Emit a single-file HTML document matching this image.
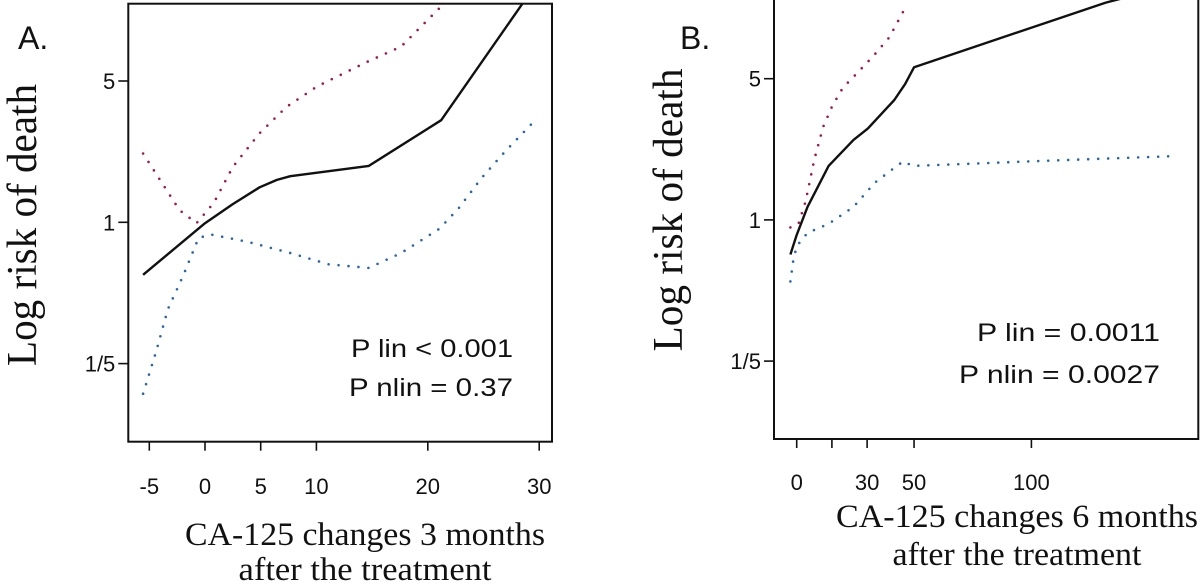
<!DOCTYPE html>
<html><head><meta charset="utf-8"><style>
html,body{margin:0;padding:0;background:#fff;}
svg{display:block;}
.ser{font-family:"Liberation Serif","Times New Roman",serif;fill:#111;}
.pv{font-family:"Liberation Sans",Arial,sans-serif;font-size:25px;fill:#111;}
.tk{font-family:"Liberation Sans",Arial,sans-serif;font-size:22px;fill:#111;}
</style></head><body>
<svg id="chart" width="1200" height="584" viewBox="0 0 1200 584" xmlns="http://www.w3.org/2000/svg">
<defs>
<clipPath id="clipA"><rect x="128.3" y="3.7" width="423.7" height="438"/></clipPath>
<clipPath id="clipB"><rect x="774" y="-2" width="424.3" height="441"/></clipPath>
</defs>
<g id="panelA"></g>
<g id="panelB"></g>
</svg>
<script>
// Panel A data (x = CA-125 change, values = hazard ratio)
const aTicksX = [-5, 0, 5, 10, 20, 30];
const aTickLabelsX = ["-5", "0", "5", "10", "20", "30"];
const yTicks = [0.2, 1, 5];
const yTickLabels = ["1/5", "1", "5"];
const aFitX = [-5.56, 0, 2.5, 4.9, 6.45, 7.66, 10.06, 14.7, 21.2, 28.6];
const aFitY = [0.55, 0.99, 1.23, 1.49, 1.62, 1.69, 1.76, 1.90, 3.2, 12.3];
const aUpperX = [-5.56, -2.3, -0.76, 0.8, 2.5, 4.9, 7.3, 10.06, 14.5, 17.6, 21.4];
const aUpperY = [2.19, 1.15, 0.99, 1.25, 1.88, 2.76, 3.72, 4.7, 6.2, 7.4, 12.0];
const aLowerX = [-5.56, -4.36, -3.33, -1.96, -0.58, 0.45, 3.88, 7.66, 11.1, 14.7, 17.6, 21.05, 22.8, 24.8, 26.9, 29.5];
const aLowerY = [0.142, 0.232, 0.372, 0.545, 0.835, 0.872, 0.80, 0.705, 0.62, 0.595, 0.705, 0.93, 1.18, 1.65, 2.23, 3.14];
// Panel B data
const bTicksX = [0, 15, 30, 50, 100];
const bTickLabelsX = ["0", "", "30", "50", "100"];
const bFitX = [-2.7, 0, 4.6, 13.6, 24.2, 30.3, 41.6, 46.2, 50, 131.7, 170];
const bFitY = [0.674, 0.843, 1.16, 1.85, 2.49, 2.83, 3.92, 4.70, 5.70, 11.9, 15.5];
const bUpperX = [-2.7, 0.76, 3.8, 7.6, 11.3, 15.1, 19.7, 25.8, 32.5, 39.4, 45.4];
const bUpperY = [0.918, 0.957, 1.235, 2.01, 2.89, 3.65, 4.51, 5.34, 6.45, 8.0, 10.77];
const bLowerX = [-2.7, -1.5, 0, 4.6, 13.6, 24.2, 33.3, 41.6, 45.4, 49.4, 69.6, 99.9, 130.2, 160.4];
const bLowerY = [0.496, 0.627, 0.742, 0.862, 0.957, 1.16, 1.53, 1.81, 1.95, 1.85, 1.89, 1.95, 2.01, 2.07];

const NS = "http://www.w3.org/2000/svg";
const log5 = v => Math.log(v) / Math.log(5);
function mk(parent, tag, attrs, text) {
  const el = document.createElementNS(NS, tag);
  for (const k in attrs) el.setAttribute(k, attrs[k]);
  if (text !== undefined) el.textContent = text;
  parent.appendChild(el);
  return el;
}
function drawPanel(g, cfg) {
  const xs = v => cfg.x0 + cfg.kx * v;
  const ys = v => cfg.y1 - cfg.ky * log5(v);
  const box = mk(g, "rect", {x: cfg.L, y: cfg.T, width: cfg.R - cfg.L, height: cfg.B - cfg.T, fill: "none", stroke: "#111", "stroke-width": 2});
  
  
  cfg.ticksX.forEach((t, i) => {
    const tk = mk(g, "line", {x1: xs(t), x2: xs(t), y1: cfg.B, y2: cfg.B + 9, stroke: "#111", "stroke-width": 1.6});
    
    
    if (cfg.labelsX[i] !== "") {
      const lb = mk(g, "text", {x: xs(t), y: cfg.tickBase, "text-anchor": "middle", "class": "tk", style: "font-size:22px"}, cfg.labelsX[i]);
      
      
    }
  });
  yTicks.forEach((t, i) => {
    const tk = mk(g, "line", {x1: cfg.L - 10, x2: cfg.L, y1: ys(t), y2: ys(t), stroke: "#111", "stroke-width": 1.6});
    
    
    const lb = mk(g, "text", {x: cfg.L - 13, y: ys(t) + 8, "text-anchor": "end", "class": "tk", style: "font-size:22px"}, yTickLabels[i]);
    
    
  });
  const cg = mk(g, "g", {"clip-path": cfg.clip});
  
  
  const series = [
    [cfg.upX, cfg.upY, "#a3154f", "upper-ci-line", true],
    [cfg.loX, cfg.loY, "#2766ad", "lower-ci-line", true],
    [cfg.fX, cfg.fY, "#111", "estimate-line", false]
  ];
  series.forEach(s => {
    const d = s[0].map((v, i) => (i ? "L" : "M") + xs(v).toFixed(1) + "," + ys(s[1][i]).toFixed(1)).join(" ");
    const attrs = {d: d, fill: "none", stroke: s[2]};
    if (s[4]) { attrs["stroke-width"] = 2.6; attrs["stroke-dasharray"] = "0 10"; attrs["stroke-linecap"] = "round"; }
    else { attrs["stroke-width"] = 2.4; attrs["stroke-linejoin"] = "round"; }
    const p = mk(cg, "path", attrs);
    
    
  });
}
const gA = document.getElementById("panelA");
drawPanel(gA, {L:128.3, R:552, T:3.7, B:441.7, x0:205, kx:11.14, y1:222.3, ky:141.3, tickBase:494,
  ticksX:aTicksX, labelsX:aTickLabelsX, clip:"url(#clipA)",
  fX:aFitX, fY:aFitY, upX:aUpperX, upY:aUpperY, loX:aLowerX, loY:aLowerY});
const gB = document.getElementById("panelB");
drawPanel(gB, {L:774, R:1198.3, T:-2, B:439, x0:796.7, kx:2.347, y1:219.9, ky:141.2, tickBase:490,
  ticksX:bTicksX, labelsX:bTickLabelsX, clip:"url(#clipB)",
  fX:bFitX, fY:bFitY, upX:bUpperX, upY:bUpperY, loX:bLowerX, loY:bLowerY});
</script>
<svg width="1200" height="584" viewBox="0 0 1200 584" style="position:absolute;left:0;top:0;" xmlns="http://www.w3.org/2000/svg">
  <text x="18" y="49" font-family="Liberation Sans, Arial, sans-serif" font-size="32" fill="#111">A.</text>
  <text transform="translate(36,225) rotate(-90)" text-anchor="middle" class="ser" font-size="42" textLength="282" lengthAdjust="spacingAndGlyphs">Log risk of death</text>
  <text x="365" y="545" text-anchor="middle" class="ser" font-size="33" textLength="360" lengthAdjust="spacingAndGlyphs">CA-125 changes 3 months</text>
  <text x="365" y="580" text-anchor="middle" class="ser" font-size="33" textLength="253" lengthAdjust="spacingAndGlyphs">after the treatment</text>
  <text x="513" y="357" text-anchor="end" class="pv" textLength="162" lengthAdjust="spacingAndGlyphs">P lin &lt; 0.001</text>
  <text x="513" y="396" text-anchor="end" class="pv" textLength="164" lengthAdjust="spacingAndGlyphs">P nlin = 0.37</text>

  <text x="680" y="49" font-family="Liberation Sans, Arial, sans-serif" font-size="32" fill="#111">B.</text>
  <text transform="translate(682,210) rotate(-90)" text-anchor="middle" class="ser" font-size="42" textLength="283" lengthAdjust="spacingAndGlyphs">Log risk of death</text>
  <text x="1017" y="527" text-anchor="middle" class="ser" font-size="33" textLength="362" lengthAdjust="spacingAndGlyphs">CA-125 changes 6 months</text>
  <text x="1017" y="565" text-anchor="middle" class="ser" font-size="33" textLength="249" lengthAdjust="spacingAndGlyphs">after the treatment</text>
  <text x="1160" y="341" text-anchor="end" class="pv" textLength="183" lengthAdjust="spacingAndGlyphs">P lin = 0.0011</text>
  <text x="1160" y="383" text-anchor="end" class="pv" textLength="201" lengthAdjust="spacingAndGlyphs">P nlin = 0.0027</text>
</svg>
</body></html>
